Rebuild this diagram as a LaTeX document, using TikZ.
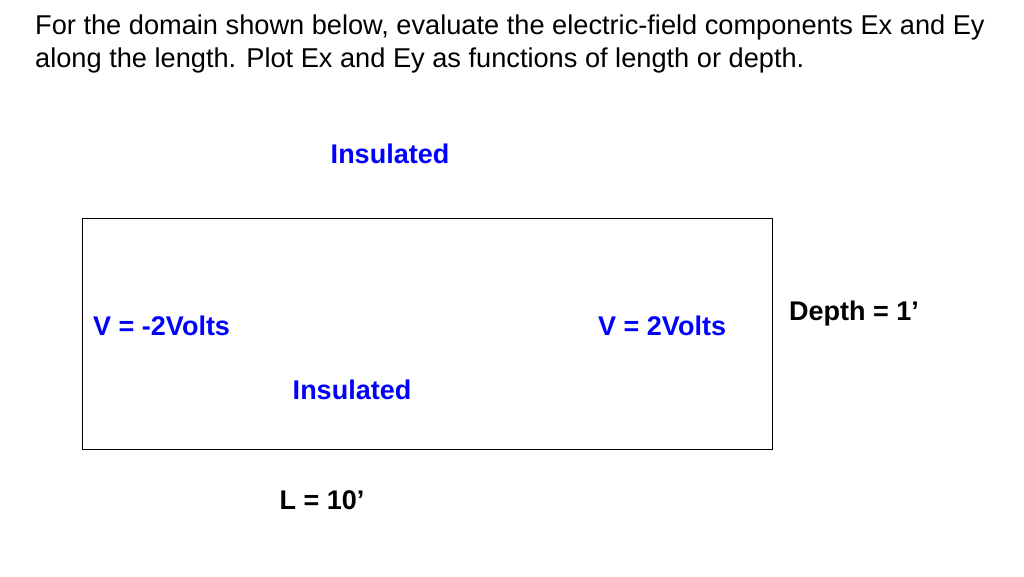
\documentclass[tikz,border=0pt]{standalone}
\usepackage{fontspec}
\setmainfont{Liberation Sans}
\begin{document}
\begin{tikzpicture}[x=1pt,y=-1pt,
  lbl/.style={font=\fontsize{27}{30}\selectfont\bfseries,text=blue,inner sep=0pt},
  blk/.style={font=\fontsize{27}{30}\selectfont\bfseries,inner sep=0pt},
  ttl/.style={font=\fontsize{27.2}{33}\selectfont,inner sep=0pt,anchor=north west,align=left}]
\useasboundingbox (0,0) rectangle (1024,576);
\node[ttl] (t) at (35,15) {For the domain shown below, evaluate the electric-field components Ex and Ey\\along the length. Plot Ex and Ey as functions of length or depth.};
\node[draw,line width=1.2pt,minimum width=690pt,minimum height=231pt,anchor=north west,inner sep=0pt] (box) at (82,218) {};
\node[lbl] (it) at (390,154) {Insulated};
\node[lbl,anchor=west] (vl) at (93,326) {V = -2Volts};
\node[lbl,anchor=west] (vr) at (598,326) {V = 2Volts};
\node[blk,anchor=west] (d) at (789,314) {Depth = 1’};
\node[lbl] (ib) at (352,390) {Insulated};
\node[blk] (l) at (322,500) {L = 10’};
\end{tikzpicture}
\end{document}
